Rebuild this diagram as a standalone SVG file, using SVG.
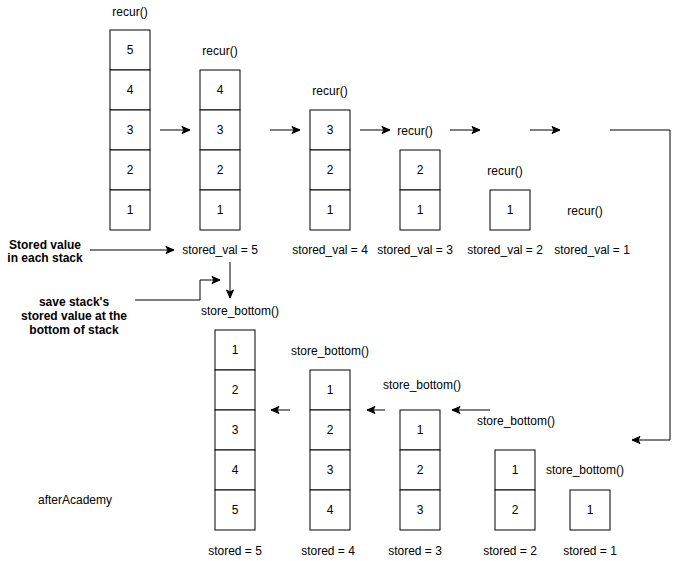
<svg xmlns="http://www.w3.org/2000/svg" width="679" height="561" viewBox="0 0 679 561">
<defs>
<style>
.bg{fill:#fff}
.cell{fill:#fff;stroke:#000;stroke-width:1}
text{font-family:"Liberation Sans",Arial,sans-serif;font-size:12px;fill:#000;text-anchor:middle}
.b{font-weight:bold}
.edge{fill:none;stroke:#000;stroke-width:1}
</style>
<marker id="arr" markerUnits="userSpaceOnUse" markerWidth="9" markerHeight="8" refX="8" refY="3.5" orient="auto" overflow="visible">
<path d="M0,0 L8,3.5 L0,7 L2,3.5 Z" fill="#000" stroke="#000" stroke-width="1"/>
</marker>
</defs>
<rect class="bg" x="0" y="0" width="679" height="561"/>

<g id="recur1">
<text x="130" y="16">recur()</text>
<rect class="cell" x="110" y="30" width="40" height="40"/><text x="130" y="54">5</text>
<rect class="cell" x="110" y="70" width="40" height="40"/><text x="130" y="94">4</text>
<rect class="cell" x="110" y="110" width="40" height="40"/><text x="130" y="134">3</text>
<rect class="cell" x="110" y="150" width="40" height="40"/><text x="130" y="174">2</text>
<rect class="cell" x="110" y="190" width="40" height="40"/><text x="130" y="214">1</text>
</g>
<g id="recur2">
<text x="220" y="55">recur()</text>
<rect class="cell" x="200" y="70" width="40" height="40"/><text x="220" y="94">4</text>
<rect class="cell" x="200" y="110" width="40" height="40"/><text x="220" y="134">3</text>
<rect class="cell" x="200" y="150" width="40" height="40"/><text x="220" y="174">2</text>
<rect class="cell" x="200" y="190" width="40" height="40"/><text x="220" y="214">1</text>
<text x="220" y="254">stored_val = 5</text>
</g>
<g id="recur3">
<text x="330" y="95">recur()</text>
<rect class="cell" x="310" y="110" width="40" height="40"/><text x="330" y="134">3</text>
<rect class="cell" x="310" y="150" width="40" height="40"/><text x="330" y="174">2</text>
<rect class="cell" x="310" y="190" width="40" height="40"/><text x="330" y="214">1</text>
<text x="330" y="254">stored_val = 4</text>
</g>
<g id="recur4">
<text x="415" y="135">recur()</text>
<rect class="cell" x="400" y="150" width="40" height="40"/><text x="420" y="174">2</text>
<rect class="cell" x="400" y="190" width="40" height="40"/><text x="420" y="214">1</text>
<text x="415" y="254">stored_val = 3</text>
</g>
<g id="recur5">
<text x="505" y="175">recur()</text>
<rect class="cell" x="490" y="190" width="40" height="40"/><text x="510" y="214">1</text>
<text x="505" y="254">stored_val = 2</text>
</g>
<g id="recur6">
<text x="585" y="215">recur()</text>
<text x="592" y="254">stored_val = 1</text>
</g>

<g id="label-stored">
<text class="b" x="45" y="248.5">Stored value</text>
<text class="b" x="45" y="262">in each stack</text>
</g>
<g id="label-save">
<text class="b" x="74" y="306">save stack's</text>
<text class="b" x="74" y="320">stored value at the</text>
<text class="b" x="74" y="334">bottom of stack</text>
</g>
<g id="label-after">
<text x="75" y="504">afterAcademy</text>
</g>

<g id="sb1">
<text x="240" y="315">store_bottom()</text>
<rect class="cell" x="215" y="330" width="40" height="40"/><text x="235" y="354">1</text>
<rect class="cell" x="215" y="370" width="40" height="40"/><text x="235" y="394">2</text>
<rect class="cell" x="215" y="410" width="40" height="40"/><text x="235" y="434">3</text>
<rect class="cell" x="215" y="450" width="40" height="40"/><text x="235" y="474">4</text>
<rect class="cell" x="215" y="490" width="40" height="40"/><text x="235" y="514">5</text>
<text x="235" y="555">stored = 5</text>
</g>
<g id="sb2">
<text x="330" y="355">store_bottom()</text>
<rect class="cell" x="310" y="370" width="40" height="40"/><text x="330" y="394">1</text>
<rect class="cell" x="310" y="410" width="40" height="40"/><text x="330" y="434">2</text>
<rect class="cell" x="310" y="450" width="40" height="40"/><text x="330" y="474">3</text>
<rect class="cell" x="310" y="490" width="40" height="40"/><text x="330" y="514">4</text>
<text x="328" y="555">stored = 4</text>
</g>
<g id="sb3">
<text x="422" y="389">store_bottom()</text>
<rect class="cell" x="400" y="410" width="40" height="40"/><text x="420" y="434">1</text>
<rect class="cell" x="400" y="450" width="40" height="40"/><text x="420" y="474">2</text>
<rect class="cell" x="400" y="490" width="40" height="40"/><text x="420" y="514">3</text>
<text x="415" y="555">stored = 3</text>
</g>
<g id="sb4">
<text x="516" y="425">store_bottom()</text>
<rect class="cell" x="495" y="450" width="40" height="40"/><text x="515" y="474">1</text>
<rect class="cell" x="495" y="490" width="40" height="40"/><text x="515" y="514">2</text>
<text x="510" y="555">stored = 2</text>
</g>
<g id="sb5">
<text x="585" y="474">store_bottom()</text>
<rect class="cell" x="570" y="490" width="40" height="40"/><text x="590" y="514">1</text>
<text x="590" y="555">stored = 1</text>
</g>

<g id="connectors">
<path class="edge" d="M160,130 H190" marker-end="url(#arr)"/>
<path class="edge" d="M270,130 H300" marker-end="url(#arr)"/>
<path class="edge" d="M360,130 H390" marker-end="url(#arr)"/>
<path class="edge" d="M450,130 H480" marker-end="url(#arr)"/>
<path class="edge" d="M530,130 H560" marker-end="url(#arr)"/>
<path class="edge" d="M610,130 H670 V440 H632" marker-end="url(#arr)"/>
<path class="edge" d="M90,250 H174" marker-end="url(#arr)"/>
<path class="edge" d="M230,262 V298" marker-end="url(#arr)"/>
<path class="edge" d="M135,300 H200 V280 H220" marker-end="url(#arr)"/>
<path class="edge" d="M290,410 H271" marker-end="url(#arr)"/>
<path class="edge" d="M385,410 H367" marker-end="url(#arr)"/>
<path class="edge" d="M490,410 H452" marker-end="url(#arr)"/>
</g>
</svg>
